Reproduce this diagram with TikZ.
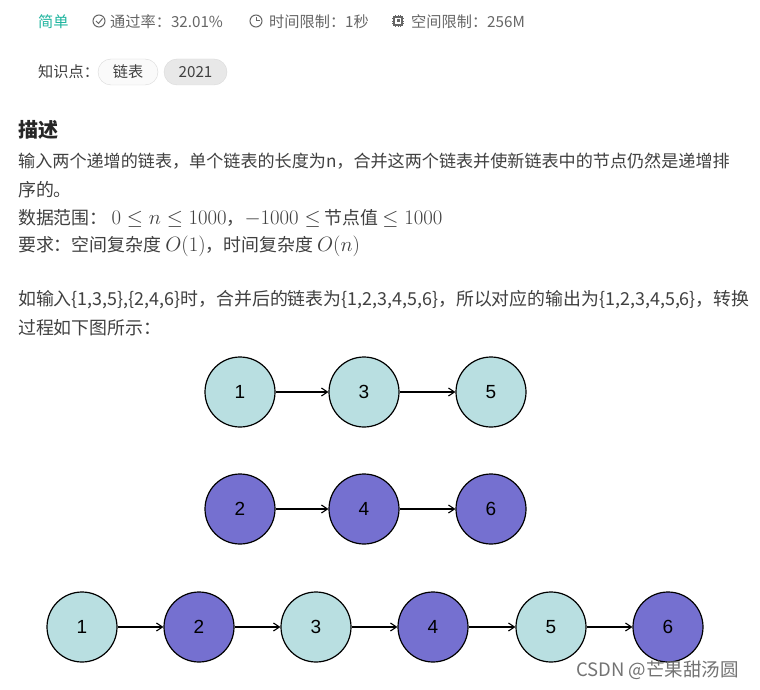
\documentclass[tikz,border=0pt]{standalone}
\usepackage{fontspec}
\setmainfont{Noto Sans CJK SC}
\newfontfamily\lat{Liberation Sans}
\usetikzlibrary{arrows.meta}
\definecolor{txt}{HTML}{404040}
\definecolor{teal1}{HTML}{1FB59F}
\definecolor{light}{HTML}{B9DFE1}
\definecolor{dark}{HTML}{7570D0}
\definecolor{mgray}{HTML}{666666}
\newcommand{\mth}[1]{{\fontsize{20.5}{22}\selectfont$#1$}}
\tikzset{
 body/.style={anchor=west,text=txt,font=\fontsize{17.9}{20}\selectfont,inner sep=0},
 meta/.style={anchor=west,text=mgray,font=\fontsize{15.2}{17}\selectfont,inner sep=0},
 ln/.style={circle,draw=black,line width=1.2pt,minimum size=70,inner sep=0,fill=light,font=\lat\fontsize{19}{22}\selectfont},
 dn/.style={ln,fill=dark},
 arr/.style={-{Straight Barb[length=6pt,width=8pt]},line width=1.1pt},
 pill/.style={rounded corners=13,minimum height=26,inner sep=0,font=\fontsize{15.2}{17}\selectfont,text=txt}
}
\begin{document}
\begin{tikzpicture}[x=1pt,y=-1pt]
\useasboundingbox[fill=white] (0,0) rectangle (760,690);
\node[meta,text=teal1] (lv) at (38,22) {简单};
\draw[mgray,line width=1pt] (99,21) circle (6);
\draw[mgray,line width=1pt] (96,21) -- (98.5,23.5) -- (102.5,18.5);
\node[meta] (pr) at (110,22) {通过率：32.01\%};
\draw[mgray,line width=1pt] (256,21) circle (6);
\draw[mgray,line width=1pt] (256,17.5) -- (256,21) -- (259.5,21);
\node[meta] (tl) at (269,22) {时间限制：1秒};
\foreach \d in {-2.5,0,2.5}{\draw[mgray,line width=0.8pt] (392,21+\d)--(404,21+\d) (398+\d,15)--(398+\d,27);}
\draw[mgray,line width=1.2pt,fill=white] (394,17) rectangle (402,25);
\fill[mgray] (396.5,19.5) rectangle (399.5,22.5);
\node[meta] (sl) at (411,22) {空间限制：256M};
\node[meta,text=txt] (kp) at (38,72) {知识点：};
\node[pill,draw=black!15,fill=black!2,minimum width=60] (t1) at (128,72) {链表};
\node[pill,draw=black!15,fill=black!9,minimum width=63] (t2) at (195.5,72) {2021};
\node[body,font=\bfseries\fontsize{20}{22}\selectfont,text=black!85] (h) at (18,130) {描述};
\node[body,font=\fontsize{17.1}{20}\selectfont] (l1) at (18,161) {输入两个递增的链表，单个链表的长度为n，合并这两个链表并使新链表中的节点仍然是递增排};
\node[body] (l2) at (18,190) {序的。};
\node[body] (l3) at (18,218) {数据范围： \mth{0\le n\le 1000}，\mth{-1000\le} 节点值 \mth{\le 1000}};
\node[body] (l4) at (18,246) {要求：空间复杂度 \mth{O(1)}，时间复杂度 \mth{O(n)}};
\node[body] (l5) at (18,300) {如输入\{1,3,5\},\{2,4,6\}时，合并后的链表为\{1,2,3,4,5,6\}，所以对应的输出为\{1,2,3,4,5,6\}，转换};
\node[body] (l6) at (18,328) {过程如下图所示：};
\node[ln] (a1) at (240,392) {1};
\node[ln] (a3) at (364,392) {3};
\node[ln] (a5) at (491,392) {5};
\draw[arr] (a1)--(a3); \draw[arr] (a3)--(a5);
\node[dn] (b2) at (240,509) {2};
\node[dn] (b4) at (364,509) {4};
\node[dn] (b6) at (491,509) {6};
\draw[arr] (b2)--(b4); \draw[arr] (b4)--(b6);
\node[ln] (c1) at (82,627) {1};
\node[dn] (c2) at (199,627) {2};
\node[ln] (c3) at (316,627) {3};
\node[dn] (c4) at (433,627) {4};
\node[ln] (c5) at (551,627) {5};
\node[dn] (c6) at (668,627) {6};
\draw[arr] (c1)--(c2); \draw[arr] (c2)--(c3); \draw[arr] (c3)--(c4); \draw[arr] (c4)--(c5); \draw[arr] (c5)--(c6);
\node[meta,text=black!55,font=\fontsize{18.5}{20}\selectfont] (wm) at (576,670) {CSDN @芒果甜汤圆};
\end{tikzpicture}
\end{document}
